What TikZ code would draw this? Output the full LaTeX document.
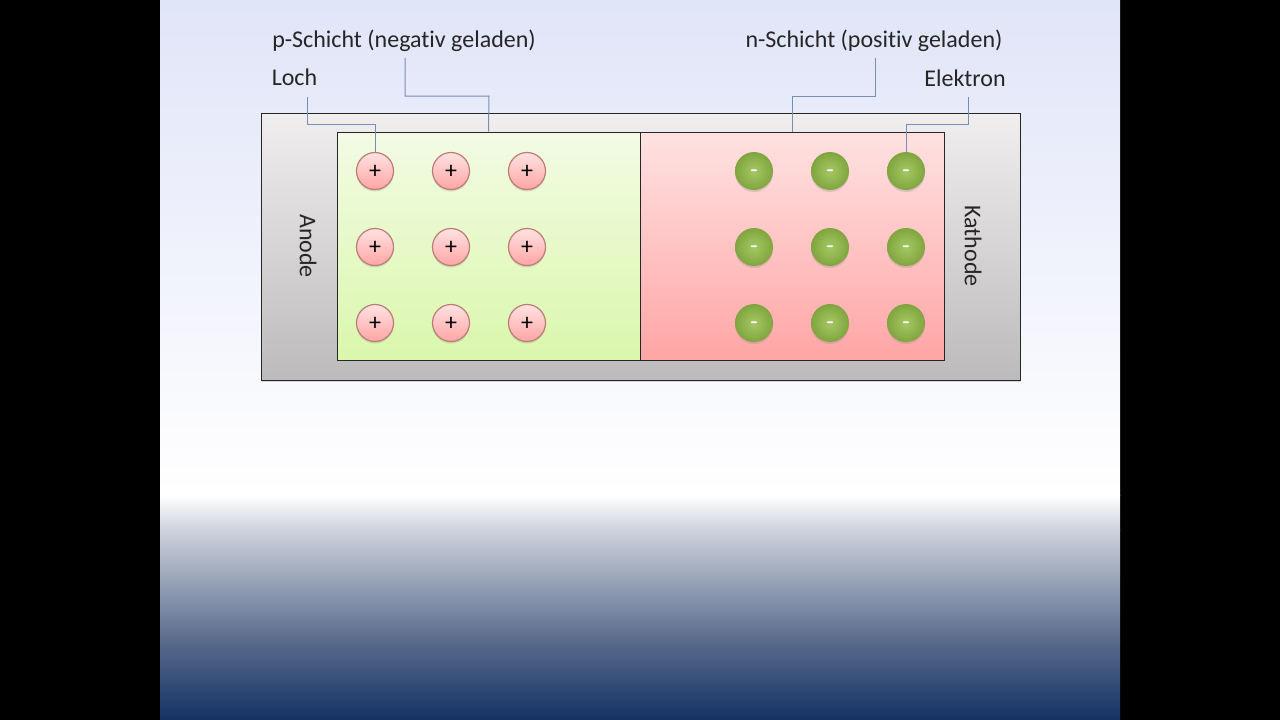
\documentclass[tikz,border=0pt]{standalone}
\usepackage{fontspec}
\setmainfont[Ligatures=CommonOff]{Carlito}
\usetikzlibrary{shadows}
\definecolor{bgtop}{RGB}{224,229,248}
\definecolor{bglow}{RGB}{205,210,220}
\definecolor{bgmix}{RGB}{90,108,140}
\definecolor{bgend}{RGB}{20,50,100}
\definecolor{leader}{RGB}{120,143,180}
\definecolor{greentop}{RGB}{243,251,228}
\definecolor{greenlow}{RGB}{218,247,172}
\definecolor{redtop}{RGB}{255,226,226}
\definecolor{redlow}{RGB}{255,165,165}
\definecolor{casetop}{RGB}{240,238,238}
\definecolor{caselow}{RGB}{188,186,186}
\definecolor{ballin}{RGB}{165,200,100}
\definecolor{ballout}{RGB}{128,165,62}
\definecolor{holerim}{RGB}{190,125,115}
\tikzset{
  label/.style={inner sep=0pt,text=black!85,font=\fontsize{24}{28}\selectfont},
  hole/.style={circle,minimum size=37pt,inner sep=0pt,draw=holerim,line width=1.2pt,top color=redtop,bottom color=redlow,drop shadow={opacity=0.25,shadow xshift=0pt,shadow yshift=-2pt},font=\fontsize{24}{28}\selectfont},
  electron/.style={circle,minimum size=38pt,inner sep=0pt,inner color=ballin,outer color=ballout,text=white,drop shadow={opacity=0.25,shadow xshift=0pt,shadow yshift=-2pt},font=\fontsize{24}{28}\selectfont},
  lead/.style={draw=leader,line width=1pt},
  plate/.style={draw=black!85,line width=1pt,inner sep=0pt},
}
\begin{document}
\begin{tikzpicture}[x=1pt,y=-1pt]
        \useasboundingbox (0,0) rectangle (1280,720);
        \fill[black] (0,0) rectangle (1280,720);
        % slide
        \fill[top color=bgtop,bottom color=white] (160,0) rectangle (1120,495);
        \fill[top color=white,bottom color=bglow] (160,495) rectangle (1120,530);
        \fill[top color=bglow,bottom color=bgmix] (160,530) rectangle (1120,640);
        \fill[top color=bgmix,bottom color=bgend] (160,640) rectangle (1120,720);

        % diode
        \node [plate,minimum width=759pt,minimum height=267pt,top color=casetop,bottom color=caselow,drop shadow={opacity=0.3,shadow xshift=1pt,shadow yshift=-2pt}] (case) at (640.5,246.5) {};
        \node [plate,minimum width=303pt,minimum height=228pt,top color=greentop,bottom color=greenlow] (player) at (488.5,246) {};
        \node [plate,minimum width=304pt,minimum height=228pt,top color=redtop,bottom color=redlow] (nlayer) at (792,246) {};

        \node [label,rotate=-90] (anode) at (308,246) {Anode};
        \node [label,rotate=-90] (kathode) at (973,246) {Kathode};

        \foreach \row/\ypos in {1/171,2/247,3/323} {
          \foreach \col/\xpos in {1/375,2/451,3/527}
            \node [hole] (h\row\col) at (\xpos,\ypos) {\smash{\raisebox{-7.5pt}{+}}};
          \foreach \col/\xpos in {1/754,2/830,3/906}
            \node [electron] (e\row\col) at (\xpos,\ypos) {\smash{\raisebox{-6pt}{-}}};
        }

        \node [label] (ptext) at (404,40.5) {p-Schicht (negativ geladen)};
        \node [label] (ntext) at (874,40.5) {n-Schicht (positiv geladen)};
        \node [label] (loch) at (294.5,77) {Loch};
        \node [label] (elektron) at (965,78) {Elektron};

        \coordinate (pstart) at (405,58);
        \coordinate (nstart) at (875,58);
        \coordinate (lochstart) at (307,97);
        \coordinate (elekstart) at (968,97);

        \draw[lead] (pstart) |- (489,96) -- (player.north);
        \draw[lead] (nstart) |- (792,96) -- (nlayer.north);
        \draw[lead] (lochstart) |- (375,124) -- (h11.north);
        \draw[lead] (elekstart) |- (906,124) -- (e13.north);
        \end{tikzpicture}
\end{document}
